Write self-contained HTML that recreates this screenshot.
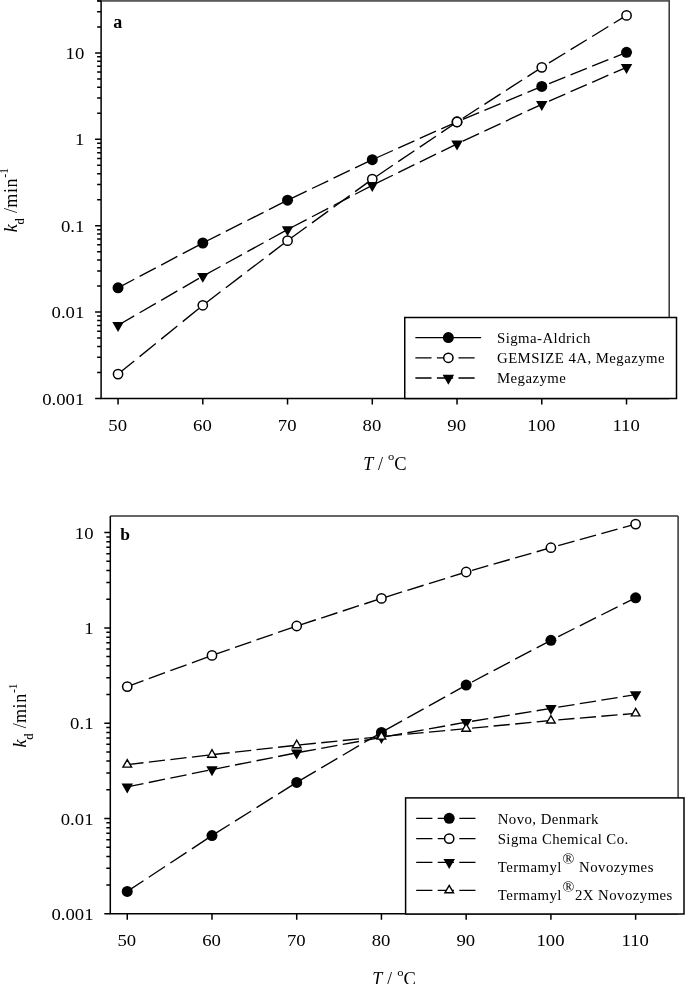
<!DOCTYPE html><html><head><meta charset="utf-8"><style>html,body{margin:0;padding:0;background:#fff;overflow:hidden;width:685px;height:984px}svg{display:block}text{font-family:'Liberation Serif',serif;fill:#000}</style></head><body>
<svg width="685" height="984" viewBox="0 0 685 984">
<rect width="685" height="984" fill="#fff"/>
<rect x="97.10" y="0" width="572.85" height="1" fill="#5a5a5a"/>
<rect x="97.10" y="1" width="572.85" height="0.7" fill="#444"/>
<path d="M669.20 0.80V398.50" fill="none" stroke="#333" stroke-width="1.5"/>
<path d="M101.10 0.80V398.50H669.20" fill="none" stroke="#000" stroke-width="1.5"/>
<path d="M95.10 398.50H101.10M97.10 372.49H101.10M97.10 357.28H101.10M97.10 346.48H101.10M97.10 338.11H101.10M97.10 331.27H101.10M97.10 325.48H101.10M97.10 320.47H101.10M97.10 316.05H101.10M95.10 312.10H101.10M97.10 286.09H101.10M97.10 270.88H101.10M97.10 260.08H101.10M97.10 251.71H101.10M97.10 244.87H101.10M97.10 239.08H101.10M97.10 234.07H101.10M97.10 229.65H101.10M95.10 225.70H101.10M97.10 199.69H101.10M97.10 184.48H101.10M97.10 173.68H101.10M97.10 165.31H101.10M97.10 158.47H101.10M97.10 152.68H101.10M97.10 147.67H101.10M97.10 143.25H101.10M95.10 139.30H101.10M97.10 113.29H101.10M97.10 98.08H101.10M97.10 87.28H101.10M97.10 78.91H101.10M97.10 72.07H101.10M97.10 66.28H101.10M97.10 61.27H101.10M97.10 56.85H101.10M95.10 52.90H101.10M97.10 26.89H101.10M97.10 11.68H101.10M97.10 0.88H101.10M118.05 398.50V404.50M202.80 398.50V404.50M287.54 398.50V404.50M372.29 398.50V404.50M457.03 398.50V404.50M541.78 398.50V404.50M626.53 398.50V404.50" stroke="#000" stroke-width="1.5" fill="none"/>
<text transform="translate(84.30 404.60) scale(1.07 1)" font-size="17.5" text-anchor="end">0.001</text>
<text transform="translate(84.30 318.20) scale(1.07 1)" font-size="17.5" text-anchor="end">0.01</text>
<text transform="translate(84.30 231.80) scale(1.07 1)" font-size="17.5" text-anchor="end">0.1</text>
<text transform="translate(84.30 145.40) scale(1.07 1)" font-size="17.5" text-anchor="end">1</text>
<text transform="translate(84.30 59.00) scale(1.07 1)" font-size="17.5" text-anchor="end">10</text>
<text transform="translate(117.65 430.80) scale(1.07 1)" font-size="17.5" text-anchor="middle">50</text>
<text transform="translate(202.40 430.80) scale(1.07 1)" font-size="17.5" text-anchor="middle">60</text>
<text transform="translate(287.14 430.80) scale(1.07 1)" font-size="17.5" text-anchor="middle">70</text>
<text transform="translate(371.89 430.80) scale(1.07 1)" font-size="17.5" text-anchor="middle">80</text>
<text transform="translate(456.63 430.80) scale(1.07 1)" font-size="17.5" text-anchor="middle">90</text>
<text transform="translate(541.38 430.80) scale(1.07 1)" font-size="17.5" text-anchor="middle">100</text>
<text transform="translate(626.13 430.80) scale(1.07 1)" font-size="17.5" text-anchor="middle">110</text>
<text x="363.15" y="469.70" font-size="18" font-style="italic">T</text>
<text x="377.90" y="469.70" font-size="18">/</text>
<text transform="translate(388.00 460.40) scale(1.2 1)" font-size="10.5">o</text>
<text x="394.25" y="469.70" font-size="18.5">C</text>
<text transform="translate(17.10 232.30) rotate(-90)" font-size="18" font-style="italic">k</text>
<text transform="translate(23.90 224.40) rotate(-90)" font-size="12.5">d</text>
<text transform="translate(17.10 212.90) rotate(-90)" font-size="18">/</text>
<text transform="translate(17.10 207.70) rotate(-90)" font-size="18" letter-spacing="0.6">min</text>
<text transform="translate(7.80 177.70) rotate(-90)" font-size="11.5">-1</text>
<text x="113.3" y="27.6" font-size="18" font-weight="bold">a</text>
<line x1="118.05" y1="287.85" x2="202.80" y2="243.00" stroke="#000" stroke-width="1.35" stroke-dasharray="18.329 6.053" stroke-dashoffset="0.000"/>
<line x1="202.80" y1="243.00" x2="287.54" y2="200.20" stroke="#000" stroke-width="1.35" stroke-dasharray="18.149 5.994" stroke-dashoffset="22.514"/>
<line x1="287.54" y1="200.20" x2="372.29" y2="159.70" stroke="#000" stroke-width="1.35" stroke-dasharray="17.955 5.930" stroke-dashoffset="20.662"/>
<line x1="372.29" y1="159.70" x2="457.03" y2="121.80" stroke="#000" stroke-width="1.35" stroke-dasharray="17.746 5.861" stroke-dashoffset="18.829"/>
<line x1="457.03" y1="121.80" x2="541.78" y2="86.45" stroke="#000" stroke-width="1.35" stroke-dasharray="17.553 5.797" stroke-dashoffset="17.049"/>
<line x1="541.78" y1="86.45" x2="626.53" y2="52.35" stroke="#000" stroke-width="1.35" stroke-dasharray="17.462 5.767" stroke-dashoffset="15.394"/>
<circle cx="118.05" cy="287.85" r="5.5" fill="#000"/>
<circle cx="202.80" cy="243.00" r="5.5" fill="#000"/>
<circle cx="287.54" cy="200.20" r="5.5" fill="#000"/>
<circle cx="372.29" cy="159.70" r="5.5" fill="#000"/>
<circle cx="457.03" cy="121.80" r="5.5" fill="#000"/>
<circle cx="541.78" cy="86.45" r="5.5" fill="#000"/>
<circle cx="626.53" cy="52.35" r="5.5" fill="#000"/>
<line x1="118.05" y1="374.10" x2="202.80" y2="305.30" stroke="#000" stroke-width="1.35" stroke-dasharray="20.866 6.891" stroke-dashoffset="0.000"/>
<line x1="202.80" y1="305.30" x2="287.54" y2="240.65" stroke="#000" stroke-width="1.35" stroke-dasharray="20.376 6.729" stroke-dashoffset="25.276"/>
<line x1="287.54" y1="240.65" x2="372.29" y2="179.15" stroke="#000" stroke-width="1.35" stroke-dasharray="20.016 6.610" stroke-dashoffset="23.034"/>
<line x1="372.29" y1="179.15" x2="457.03" y2="122.00" stroke="#000" stroke-width="1.35" stroke-dasharray="19.539 6.453" stroke-dashoffset="20.732"/>
<line x1="457.03" y1="122.00" x2="541.78" y2="67.35" stroke="#000" stroke-width="1.35" stroke-dasharray="19.276 6.366" stroke-dashoffset="18.723"/>
<line x1="541.78" y1="67.35" x2="626.53" y2="15.40" stroke="#000" stroke-width="1.35" stroke-dasharray="19.002 6.275" stroke-dashoffset="16.751"/>
<circle cx="118.05" cy="374.10" r="4.65" fill="#fff" stroke="#000" stroke-width="1.5"/>
<circle cx="202.80" cy="305.30" r="4.65" fill="#fff" stroke="#000" stroke-width="1.5"/>
<circle cx="287.54" cy="240.65" r="4.65" fill="#fff" stroke="#000" stroke-width="1.5"/>
<circle cx="372.29" cy="179.15" r="4.65" fill="#fff" stroke="#000" stroke-width="1.5"/>
<circle cx="457.03" cy="122.00" r="4.65" fill="#fff" stroke="#000" stroke-width="1.5"/>
<circle cx="541.78" cy="67.35" r="4.65" fill="#fff" stroke="#000" stroke-width="1.5"/>
<circle cx="626.53" cy="15.40" r="4.65" fill="#fff" stroke="#000" stroke-width="1.5"/>
<line x1="118.05" y1="325.25" x2="202.80" y2="276.20" stroke="#000" stroke-width="1.35" stroke-dasharray="18.718 6.181" stroke-dashoffset="0.000"/>
<line x1="202.80" y1="276.20" x2="287.54" y2="229.50" stroke="#000" stroke-width="1.35" stroke-dasharray="18.497 6.109" stroke-dashoffset="22.946"/>
<line x1="287.54" y1="229.50" x2="372.29" y2="185.30" stroke="#000" stroke-width="1.35" stroke-dasharray="18.271 6.034" stroke-dashoffset="21.026"/>
<line x1="372.29" y1="185.30" x2="457.03" y2="143.90" stroke="#000" stroke-width="1.35" stroke-dasharray="18.030 5.954" stroke-dashoffset="19.130"/>
<line x1="457.03" y1="143.90" x2="541.78" y2="104.30" stroke="#000" stroke-width="1.35" stroke-dasharray="17.881 5.905" stroke-dashoffset="17.368"/>
<line x1="541.78" y1="104.30" x2="626.53" y2="67.30" stroke="#000" stroke-width="1.35" stroke-dasharray="17.677 5.838" stroke-dashoffset="15.583"/>
<path d="M112.30 321.93H123.80L118.05 331.89Z" fill="#000"/>
<path d="M197.05 272.88H208.55L202.80 282.84Z" fill="#000"/>
<path d="M281.79 226.18H293.29L287.54 236.14Z" fill="#000"/>
<path d="M366.54 181.98H378.04L372.29 191.94Z" fill="#000"/>
<path d="M451.28 140.58H462.78L457.03 150.54Z" fill="#000"/>
<path d="M536.03 100.98H547.53L541.78 110.94Z" fill="#000"/>
<path d="M620.78 63.98H632.28L626.53 73.94Z" fill="#000"/>
<rect x="404.75" y="317.50" width="271.75" height="81.00" fill="#fff" stroke="#000" stroke-width="1.5"/>
<line x1="415.35" y1="337.60" x2="481.15" y2="337.60" stroke="#000" stroke-width="1.35"/>
<circle cx="448.35" cy="337.60" r="5.5" fill="#000"/>
<text x="497.00" y="342.80" font-size="14.8" letter-spacing="0.45">Sigma-Aldrich</text>
<line x1="415.35" y1="357.80" x2="474.95" y2="357.80" stroke="#000" stroke-width="1.35" stroke-dasharray="16.2 5.35"/>
<circle cx="448.35" cy="357.80" r="4.65" fill="#fff" stroke="#000" stroke-width="1.5"/>
<text x="497.00" y="362.90" font-size="14.8" letter-spacing="0.45">GEMSIZE 4A, Megazyme</text>
<line x1="415.35" y1="378.00" x2="474.95" y2="378.00" stroke="#000" stroke-width="1.35" stroke-dasharray="16.2 5.35"/>
<path d="M442.60 374.68H454.10L448.35 384.64Z" fill="#000"/>
<text x="497.00" y="383.00" font-size="14.8" letter-spacing="0.45">Megazyme</text>
<path d="M110.30 516.10H678.10" fill="none" stroke="#333" stroke-width="1.5"/>
<path d="M678.10 516.10V913.80" fill="none" stroke="#333" stroke-width="1.5"/>
<path d="M110.30 516.10V913.80H678.10" fill="none" stroke="#000" stroke-width="1.5"/>
<path d="M104.30 913.80H110.30M106.30 885.11H110.30M106.30 868.33H110.30M106.30 856.42H110.30M106.30 847.19H110.30M106.30 839.64H110.30M106.30 833.26H110.30M106.30 827.74H110.30M106.30 822.86H110.30M104.30 818.50H110.30M106.30 789.81H110.30M106.30 773.03H110.30M106.30 761.12H110.30M106.30 751.89H110.30M106.30 744.34H110.30M106.30 737.96H110.30M106.30 732.44H110.30M106.30 727.56H110.30M104.30 723.20H110.30M106.30 694.51H110.30M106.30 677.73H110.30M106.30 665.82H110.30M106.30 656.59H110.30M106.30 649.04H110.30M106.30 642.66H110.30M106.30 637.14H110.30M106.30 632.26H110.30M104.30 627.90H110.30M106.30 599.21H110.30M106.30 582.43H110.30M106.30 570.52H110.30M106.30 561.29H110.30M106.30 553.74H110.30M106.30 547.36H110.30M106.30 541.84H110.30M106.30 536.96H110.30M104.30 532.60H110.30M127.25 913.80V919.80M211.98 913.80V919.80M296.71 913.80V919.80M381.44 913.80V919.80M466.17 913.80V919.80M550.90 913.80V919.80M635.63 913.80V919.80" stroke="#000" stroke-width="1.5" fill="none"/>
<text transform="translate(93.50 919.90) scale(1.07 1)" font-size="17.5" text-anchor="end">0.001</text>
<text transform="translate(93.50 824.60) scale(1.07 1)" font-size="17.5" text-anchor="end">0.01</text>
<text transform="translate(93.50 729.30) scale(1.07 1)" font-size="17.5" text-anchor="end">0.1</text>
<text transform="translate(93.50 634.00) scale(1.07 1)" font-size="17.5" text-anchor="end">1</text>
<text transform="translate(93.50 538.70) scale(1.07 1)" font-size="17.5" text-anchor="end">10</text>
<text transform="translate(126.85 946.10) scale(1.07 1)" font-size="17.5" text-anchor="middle">50</text>
<text transform="translate(211.58 946.10) scale(1.07 1)" font-size="17.5" text-anchor="middle">60</text>
<text transform="translate(296.31 946.10) scale(1.07 1)" font-size="17.5" text-anchor="middle">70</text>
<text transform="translate(381.04 946.10) scale(1.07 1)" font-size="17.5" text-anchor="middle">80</text>
<text transform="translate(465.77 946.10) scale(1.07 1)" font-size="17.5" text-anchor="middle">90</text>
<text transform="translate(550.50 946.10) scale(1.07 1)" font-size="17.5" text-anchor="middle">100</text>
<text transform="translate(635.23 946.10) scale(1.07 1)" font-size="17.5" text-anchor="middle">110</text>
<text x="372.30" y="985.00" font-size="18" font-style="italic">T</text>
<text x="387.05" y="985.00" font-size="18">/</text>
<text transform="translate(397.15 975.70) scale(1.2 1)" font-size="10.5">o</text>
<text x="403.40" y="985.00" font-size="18.5">C</text>
<text transform="translate(26.30 747.60) rotate(-90)" font-size="18" font-style="italic">k</text>
<text transform="translate(33.10 739.70) rotate(-90)" font-size="12.5">d</text>
<text transform="translate(26.30 728.20) rotate(-90)" font-size="18">/</text>
<text transform="translate(26.30 723.00) rotate(-90)" font-size="18" letter-spacing="0.6">min</text>
<text transform="translate(17.00 693.00) rotate(-90)" font-size="11.5">-1</text>
<text x="120.25" y="539.8" font-size="17.5" font-weight="bold">b</text>
<line x1="127.25" y1="891.40" x2="211.98" y2="835.60" stroke="#000" stroke-width="1.35" stroke-dasharray="19.397 6.406" stroke-dashoffset="0.000"/>
<line x1="211.98" y1="835.60" x2="296.71" y2="782.40" stroke="#000" stroke-width="1.35" stroke-dasharray="19.128 6.317" stroke-dashoffset="23.711"/>
<line x1="296.71" y1="782.40" x2="381.44" y2="732.40" stroke="#000" stroke-width="1.35" stroke-dasharray="18.810 6.212" stroke-dashoffset="21.612"/>
<line x1="381.44" y1="732.40" x2="466.17" y2="685.10" stroke="#000" stroke-width="1.35" stroke-dasharray="18.553 6.127" stroke-dashoffset="19.634"/>
<line x1="466.17" y1="685.10" x2="550.90" y2="640.30" stroke="#000" stroke-width="1.35" stroke-dasharray="18.325 6.052" stroke-dashoffset="17.732"/>
<line x1="550.90" y1="640.30" x2="635.63" y2="597.80" stroke="#000" stroke-width="1.35" stroke-dasharray="18.124 5.985" stroke-dashoffset="15.894"/>
<circle cx="127.25" cy="891.40" r="5.5" fill="#000"/>
<circle cx="211.98" cy="835.60" r="5.5" fill="#000"/>
<circle cx="296.71" cy="782.40" r="5.5" fill="#000"/>
<circle cx="381.44" cy="732.40" r="5.5" fill="#000"/>
<circle cx="466.17" cy="685.10" r="5.5" fill="#000"/>
<circle cx="550.90" cy="640.30" r="5.5" fill="#000"/>
<circle cx="635.63" cy="597.80" r="5.5" fill="#000"/>
<line x1="127.25" y1="686.60" x2="211.98" y2="655.40" stroke="#000" stroke-width="1.35" stroke-dasharray="17.263 5.701" stroke-dashoffset="0.000"/>
<line x1="211.98" y1="655.40" x2="296.71" y2="626.00" stroke="#000" stroke-width="1.35" stroke-dasharray="17.147 5.663" stroke-dashoffset="21.256"/>
<line x1="296.71" y1="626.00" x2="381.44" y2="598.40" stroke="#000" stroke-width="1.35" stroke-dasharray="17.038 5.627" stroke-dashoffset="19.575"/>
<line x1="381.44" y1="598.40" x2="466.17" y2="572.00" stroke="#000" stroke-width="1.35" stroke-dasharray="16.968 5.604" stroke-dashoffset="17.957"/>
<line x1="466.17" y1="572.00" x2="550.90" y2="547.70" stroke="#000" stroke-width="1.35" stroke-dasharray="16.853 5.566" stroke-dashoffset="16.307"/>
<line x1="550.90" y1="547.70" x2="635.63" y2="524.10" stroke="#000" stroke-width="1.35" stroke-dasharray="16.817 5.554" stroke-dashoffset="14.747"/>
<circle cx="127.25" cy="686.60" r="4.65" fill="#fff" stroke="#000" stroke-width="1.5"/>
<circle cx="211.98" cy="655.40" r="4.65" fill="#fff" stroke="#000" stroke-width="1.5"/>
<circle cx="296.71" cy="626.00" r="4.65" fill="#fff" stroke="#000" stroke-width="1.5"/>
<circle cx="381.44" cy="598.40" r="4.65" fill="#fff" stroke="#000" stroke-width="1.5"/>
<circle cx="466.17" cy="572.00" r="4.65" fill="#fff" stroke="#000" stroke-width="1.5"/>
<circle cx="550.90" cy="547.70" r="4.65" fill="#fff" stroke="#000" stroke-width="1.5"/>
<circle cx="635.63" cy="524.10" r="4.65" fill="#fff" stroke="#000" stroke-width="1.5"/>
<line x1="127.25" y1="786.90" x2="211.98" y2="769.60" stroke="#000" stroke-width="1.35" stroke-dasharray="16.534 5.460" stroke-dashoffset="0.000"/>
<line x1="211.98" y1="769.60" x2="296.71" y2="752.80" stroke="#000" stroke-width="1.35" stroke-dasharray="16.515 5.454" stroke-dashoffset="20.472"/>
<line x1="296.71" y1="752.80" x2="381.44" y2="737.40" stroke="#000" stroke-width="1.35" stroke-dasharray="16.465 5.438" stroke-dashoffset="18.918"/>
<line x1="381.44" y1="737.40" x2="466.17" y2="722.20" stroke="#000" stroke-width="1.35" stroke-dasharray="16.459 5.435" stroke-dashoffset="17.418"/>
<line x1="466.17" y1="722.20" x2="550.90" y2="708.40" stroke="#000" stroke-width="1.35" stroke-dasharray="16.413 5.420" stroke-dashoffset="15.882"/>
<line x1="550.90" y1="708.40" x2="635.63" y2="694.60" stroke="#000" stroke-width="1.35" stroke-dasharray="16.413 5.420" stroke-dashoffset="14.394"/>
<path d="M121.50 783.58H133.00L127.25 793.54Z" fill="#000"/>
<path d="M206.23 766.28H217.73L211.98 776.24Z" fill="#000"/>
<path d="M290.96 749.48H302.46L296.71 759.44Z" fill="#000"/>
<path d="M375.69 734.08H387.19L381.44 744.04Z" fill="#000"/>
<path d="M460.42 718.88H471.92L466.17 728.84Z" fill="#000"/>
<path d="M545.15 705.08H556.65L550.90 715.04Z" fill="#000"/>
<path d="M629.88 691.28H641.38L635.63 701.24Z" fill="#000"/>
<line x1="127.25" y1="764.60" x2="211.98" y2="754.70" stroke="#000" stroke-width="1.35" stroke-dasharray="16.310 5.386" stroke-dashoffset="0.000"/>
<line x1="211.98" y1="754.70" x2="296.71" y2="745.20" stroke="#000" stroke-width="1.35" stroke-dasharray="16.302 5.384" stroke-dashoffset="20.207"/>
<line x1="296.71" y1="745.20" x2="381.44" y2="736.60" stroke="#000" stroke-width="1.35" stroke-dasharray="16.283 5.377" stroke-dashoffset="18.708"/>
<line x1="381.44" y1="736.60" x2="466.17" y2="728.70" stroke="#000" stroke-width="1.35" stroke-dasharray="16.270 5.373" stroke-dashoffset="17.218"/>
<line x1="466.17" y1="728.70" x2="550.90" y2="720.50" stroke="#000" stroke-width="1.35" stroke-dasharray="16.276 5.375" stroke-dashoffset="15.749"/>
<line x1="550.90" y1="720.50" x2="635.63" y2="713.40" stroke="#000" stroke-width="1.35" stroke-dasharray="16.257 5.369" stroke-dashoffset="14.257"/>
<path d="M122.95 767.08H131.55L127.25 759.63Z" fill="#fff" stroke="#000" stroke-width="1.4" stroke-linejoin="miter"/>
<path d="M207.68 757.18H216.28L211.98 749.73Z" fill="#fff" stroke="#000" stroke-width="1.4" stroke-linejoin="miter"/>
<path d="M292.41 747.68H301.01L296.71 740.23Z" fill="#fff" stroke="#000" stroke-width="1.4" stroke-linejoin="miter"/>
<path d="M377.14 739.08H385.74L381.44 731.63Z" fill="#fff" stroke="#000" stroke-width="1.4" stroke-linejoin="miter"/>
<path d="M461.87 731.18H470.47L466.17 723.73Z" fill="#fff" stroke="#000" stroke-width="1.4" stroke-linejoin="miter"/>
<path d="M546.60 722.98H555.20L550.90 715.53Z" fill="#fff" stroke="#000" stroke-width="1.4" stroke-linejoin="miter"/>
<path d="M631.33 715.88H639.93L635.63 708.43Z" fill="#fff" stroke="#000" stroke-width="1.4" stroke-linejoin="miter"/>
<rect x="405.60" y="797.90" width="278.40" height="116.10" fill="#fff" stroke="#000" stroke-width="1.5"/>
<line x1="416.20" y1="818.30" x2="475.80" y2="818.30" stroke="#000" stroke-width="1.35" stroke-dasharray="16.2 5.35"/>
<circle cx="449.20" cy="818.30" r="5.5" fill="#000"/>
<text x="497.70" y="823.80" font-size="14.8" letter-spacing="0.45">Novo, Denmark</text>
<line x1="416.20" y1="838.60" x2="475.80" y2="838.60" stroke="#000" stroke-width="1.35" stroke-dasharray="16.2 5.35"/>
<circle cx="449.20" cy="838.60" r="4.65" fill="#fff" stroke="#000" stroke-width="1.5"/>
<text x="497.70" y="843.60" font-size="14.8" letter-spacing="0.45">Sigma Chemical Co.</text>
<line x1="416.20" y1="862.30" x2="475.80" y2="862.30" stroke="#000" stroke-width="1.35" stroke-dasharray="16.2 5.35"/>
<path d="M443.45 858.98H454.95L449.20 868.94Z" fill="#000"/>
<text x="497.70" y="872.00" font-size="14.8" letter-spacing="0.45">Termamyl<tspan dx="0.6" dy="-7.6" font-size="15.6" letter-spacing="0">®</tspan><tspan dx="0.6" dy="7.6"> Novozymes</tspan></text>
<line x1="416.20" y1="890.30" x2="475.80" y2="890.30" stroke="#000" stroke-width="1.35" stroke-dasharray="16.2 5.35"/>
<path d="M444.90 892.78H453.50L449.20 885.33Z" fill="#fff" stroke="#000" stroke-width="1.4" stroke-linejoin="miter"/>
<text x="497.70" y="899.50" font-size="14.8" letter-spacing="0.45">Termamyl<tspan dx="0.6" dy="-7.6" font-size="15.6" letter-spacing="0">®</tspan><tspan dx="0.6" dy="7.6">2X Novozymes</tspan></text>
</svg></body></html>
